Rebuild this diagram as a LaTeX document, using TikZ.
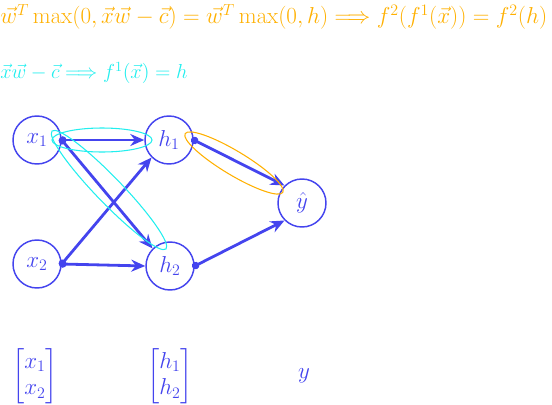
\documentclass[tikz,border=0pt]{standalone}
\usepackage{amsmath}
\usepackage{graphicx}
\usetikzlibrary{arrows.meta}
\definecolor{nblue}{HTML}{4444EE}
\definecolor{norange}{HTML}{FFB000}
\definecolor{ncyan}{HTML}{22EEEE}
\begin{document}
\begin{tikzpicture}[x=0.75pt,y=-0.75pt,
  neuron/.style={circle,draw=nblue,line width=1.1pt,minimum size=36pt,inner sep=0pt,text=nblue,font=\fontsize{17.28}{20}\selectfont},
  conn/.style={draw=nblue,line width=2.1pt,{Circle[length=5.5pt]}-{Stealth[length=10.5pt,width=9pt]},shorten <=-2pt},
  lbl/.style={inner sep=0pt,font=\fontsize{17.28}{20}\selectfont},
  grp/.style={draw,line width=0.8pt}]
\useasboundingbox (0,0) rectangle (552,404);
\node[lbl,anchor=west,text=norange] (top) at (0,17) {$\vec{w}^T\max(0,\vec{x}\vec{w}-\vec{c})=\vec{w}^T\max(0,h)\Longrightarrow f^2(f^1(\vec{x}))=f^2(h)$};
\node[lbl,anchor=west,text=ncyan,font=\fontsize{14.4}{18}\selectfont] (mid) at (0,73) {\scalebox{1.055}{$\vec{x}\vec{w}-\vec{c}\Longrightarrow f^1(\vec{x})=h$}};
\node[neuron] (x1) at (37,140) {$x_1$};
\node[neuron] (x2) at (37,264) {$x_2$};
\node[neuron] (h1) at (169,140) {$h_1$};
\node[neuron] (h2) at (170,266) {$h_2$};
\node[neuron] (y) at (302,203) {$\hat{y}$};
\draw[conn] (x1.east) -- (h1.west);
\draw[conn] (x1.east) -- (h2.north west);
\draw[conn] (x2.east) -- (h1.south west);
\draw[conn] (x2.east) -- (h2.west);
\draw[conn] (h1.east) -- (y.north west);
\draw[conn] (h2.east) -- (y.south west);
\draw[grp,ncyan] (102,140) ellipse [x radius=50,y radius=12];
\draw[grp,ncyan,rotate around={-46:(109,190)}] (109,190) ellipse [x radius=82,y radius=13];
\draw[grp,norange,rotate around={-31:(234,163)}] (234,163) ellipse [x radius=57,y radius=12];
\node[lbl,text=nblue] (mx) at (35,376) {$\begin{bmatrix}x_1\\x_2\end{bmatrix}$};
\node[lbl,text=nblue] (mh) at (170,376) {$\begin{bmatrix}h_1\\h_2\end{bmatrix}$};
\node[lbl,text=nblue] (my) at (304,376) {$y$};
\end{tikzpicture}
\end{document}
